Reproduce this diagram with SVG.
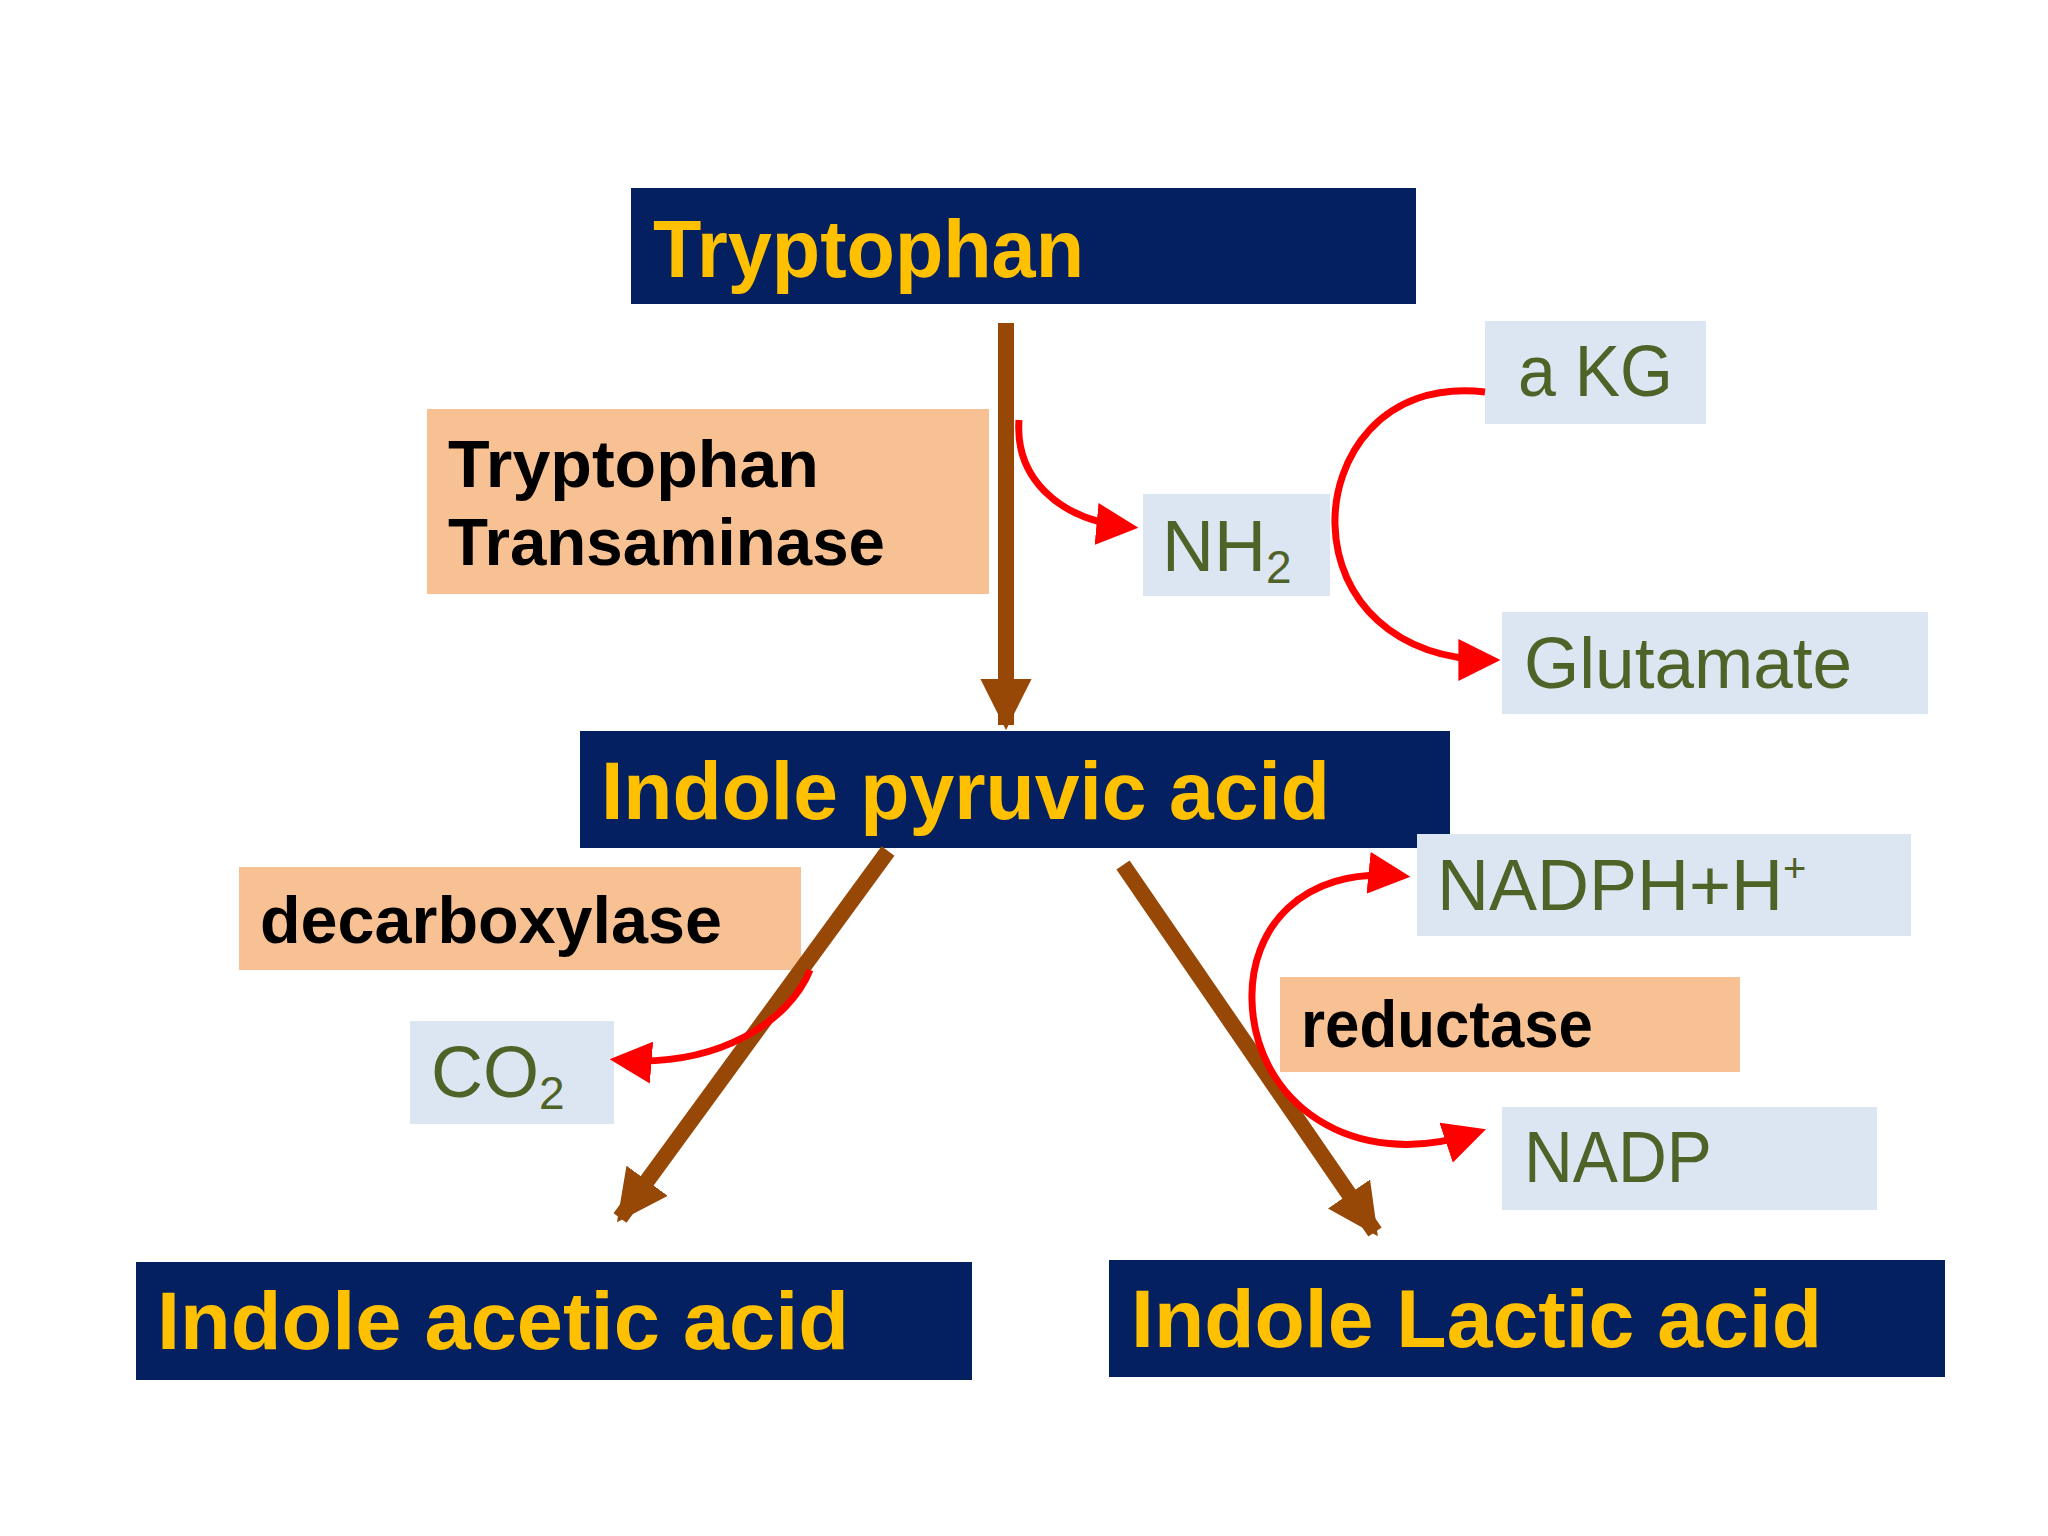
<svg xmlns="http://www.w3.org/2000/svg" width="2048" height="1536" viewBox="0 0 2048 1536">
<style>
.dark{fill:#042060}
.org{fill:#F8C193}
.blu{fill:#DCE6F2}
.t1{font-family:"Liberation Sans",Arial,sans-serif;font-weight:bold;font-size:82px;fill:#FFC000}
.t2{font-family:"Liberation Sans",Arial,sans-serif;font-weight:bold;font-size:66px;fill:#000}
.t3{font-family:"Liberation Sans",Arial,sans-serif;font-size:72px;fill:#4F6228}
.brown{stroke:#974806;stroke-width:16;fill:none}
.red{stroke:#FF0000;stroke-width:7;fill:none}
</style>
<defs>
<marker id="bh" viewBox="0 0 10 10" refX="9" refY="5" markerWidth="3.2" markerHeight="3.2" orient="auto" markerUnits="strokeWidth"><path d="M0,0 L10,5 L0,10 z" fill="#974806"/></marker>
<marker id="rh" viewBox="0 0 10 10" refX="8" refY="5" markerWidth="6" markerHeight="6" orient="auto-start-reverse" markerUnits="strokeWidth"><path d="M0,0 L10,5 L0,10 z" fill="#FF0000"/></marker>
</defs>
<rect width="2048" height="1536" fill="#fff"/>
<g id="tryptophan"><rect class="dark" x="631" y="188" width="785" height="116"/><text class="t1" x="653" y="277" textLength="431" lengthAdjust="spacingAndGlyphs">Tryptophan</text></g>
<g id="transaminase"><rect class="org" x="427" y="409" width="562" height="185"/><text class="t2" x="448" y="487" textLength="371" lengthAdjust="spacingAndGlyphs">Tryptophan</text><text class="t2" x="448" y="565" textLength="437" lengthAdjust="spacingAndGlyphs">Transaminase</text></g>
<g id="nh2"><rect class="blu" x="1143" y="494" width="187" height="102"/><text class="t3" x="1162" y="571">NH<tspan font-size="46" dy="12">2</tspan></text></g>
<g id="akg"><rect class="blu" x="1485" y="321" width="221" height="103"/><text class="t3" x="1518" y="396" textLength="155" lengthAdjust="spacingAndGlyphs">a KG</text></g>
<g id="glutamate"><rect class="blu" x="1502" y="612" width="426" height="102"/><text class="t3" x="1524" y="688" textLength="328" lengthAdjust="spacingAndGlyphs">Glutamate</text></g>
<g id="indolepyruvic"><rect class="dark" x="580" y="731" width="870" height="117"/><text class="t1" x="601" y="819" textLength="729" lengthAdjust="spacingAndGlyphs">Indole pyruvic acid</text></g>
<g id="decarboxylase"><rect class="org" x="239" y="867" width="562" height="103"/><text class="t2" x="260" y="943" textLength="462" lengthAdjust="spacingAndGlyphs">decarboxylase</text></g>
<g id="co2"><rect class="blu" x="410" y="1021" width="204" height="103"/><text class="t3" x="431" y="1097">CO<tspan font-size="46" dy="12">2</tspan></text></g>
<g id="nadph"><rect class="blu" x="1417" y="834" width="494" height="102"/><text class="t3" x="1437" y="910">NADPH+H<tspan font-size="40" dy="-28">+</tspan></text></g>
<g id="reductase"><rect class="org" x="1280" y="977" width="460" height="95"/><text class="t2" x="1301" y="1047" textLength="292" lengthAdjust="spacingAndGlyphs">reductase</text></g>
<g id="nadp"><rect class="blu" x="1502" y="1107" width="375" height="103"/><text class="t3" x="1524" y="1182" textLength="188" lengthAdjust="spacingAndGlyphs">NADP</text></g>
<g id="indoleacetic"><rect class="dark" x="136" y="1262" width="836" height="118"/><text class="t1" x="157" y="1349" textLength="692" lengthAdjust="spacingAndGlyphs">Indole acetic acid</text></g>
<g id="indolelactic"><rect class="dark" x="1109" y="1260" width="836" height="117"/><text class="t1" x="1131" y="1347" textLength="691" lengthAdjust="spacingAndGlyphs">Indole Lactic acid</text></g>
<g id="connectors">
<path class="brown" d="M1006 323 L1006 725" marker-end="url(#bh)"/>
<path class="brown" d="M888 851 L620 1218" marker-end="url(#bh)"/>
<path class="brown" d="M1123 865 L1375 1232" marker-end="url(#bh)"/>
<path class="red" d="M1019 420 C1015 475 1055 520 1130 527" marker-end="url(#rh)"/>
<path class="red" d="M1485 392 C1380 380 1333 460 1335 525 C1337 600 1395 660 1492 660" marker-end="url(#rh)"/>
<path class="red" d="M810 970 C790 1020 720 1068 618 1060" marker-end="url(#rh)"/>
<path class="red" d="M1402 876 C1300 866 1250 930 1252 1000 C1254 1100 1350 1175 1478 1132" marker-start="url(#rh)" marker-end="url(#rh)"/>
</g>
</svg>
